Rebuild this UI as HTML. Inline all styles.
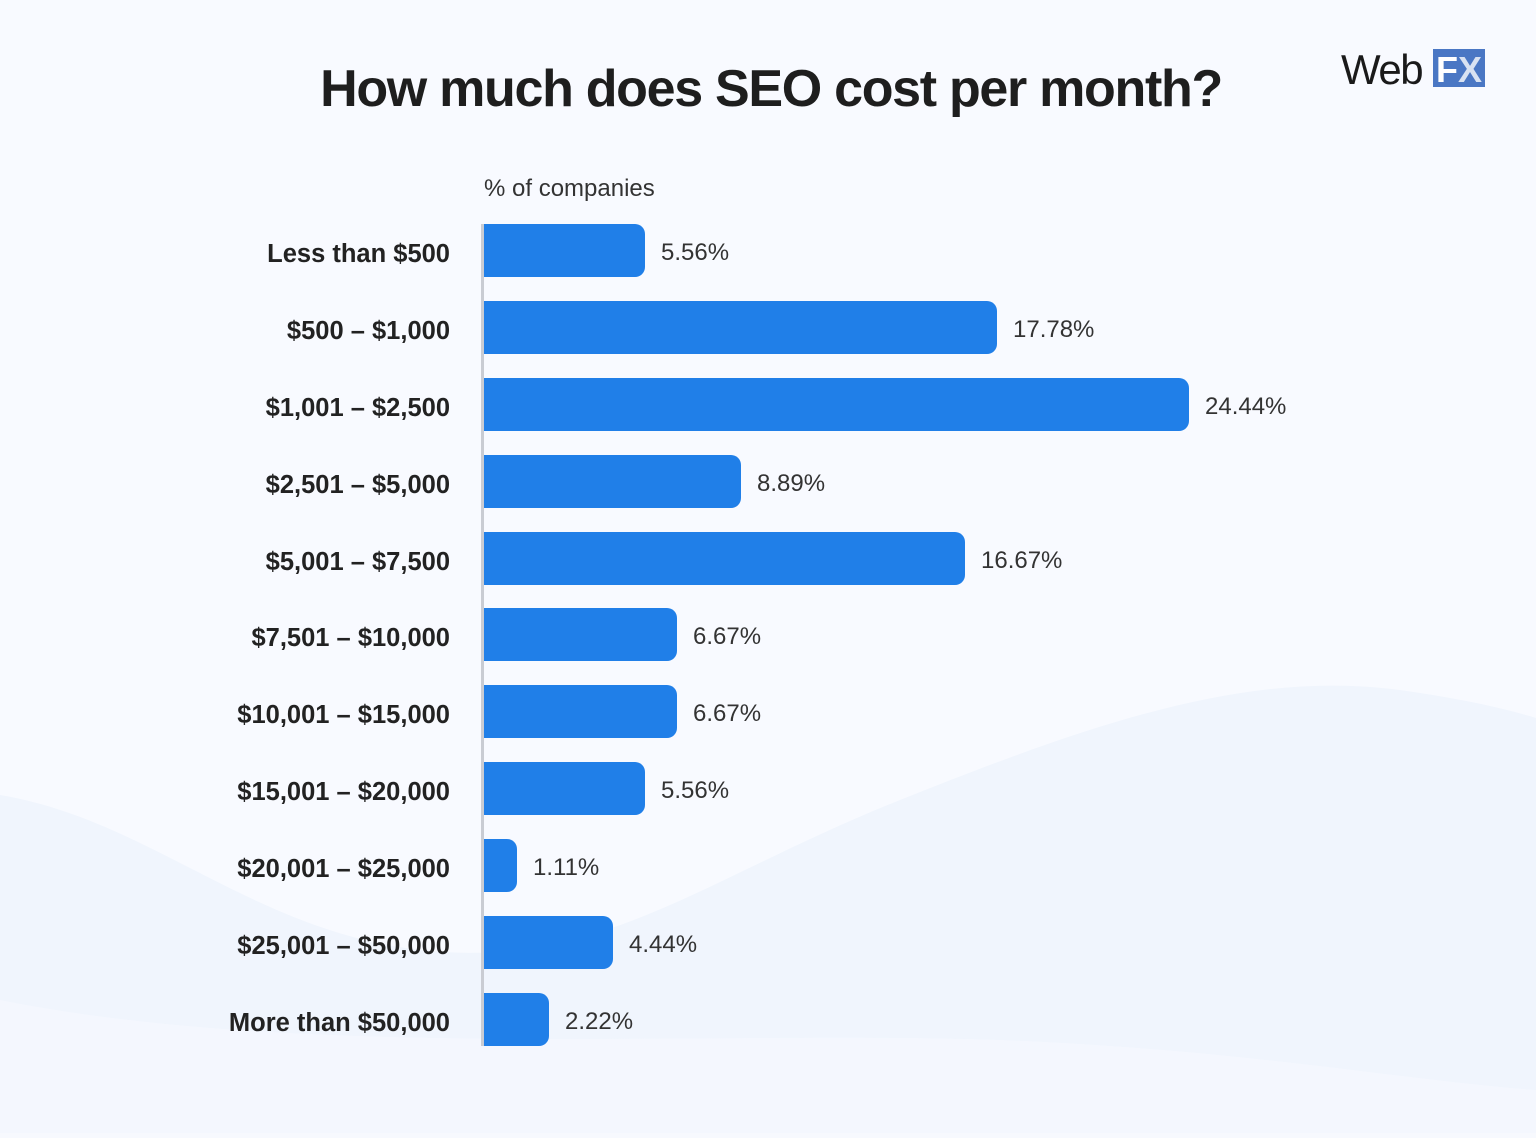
<!DOCTYPE html>
<html><head><style>
body{margin:0;width:1536px;height:1133px;overflow:hidden;background:#f7f9fe;font-family:"Liberation Sans",sans-serif}
</style></head><body>
<svg width="1536" height="1133" viewBox="0 0 1536 1133" xmlns="http://www.w3.org/2000/svg">
<rect width="1536" height="1133" fill="#f8faff"/>
<path d="M0 795 C150 820 250 930 420 950 C600 970 700 880 900 800 C1100 720 1250 670 1400 690 C1470 700 1510 710 1536 718 L1536 1133 L0 1133Z" fill="#f0f5fd"/>
<path d="M0 1000 C300 1060 700 1030 1000 1040 C1250 1050 1400 1080 1536 1090 L1536 1133 L0 1133Z" fill="#f5f8fe" opacity="0.8"/>
<text x="771" y="106" text-anchor="middle" font-size="52" font-weight="bold" fill="#1e1e1e" letter-spacing="-1.3">How much does SEO cost per month?</text>
<text x="1341" y="84" font-size="42" fill="#1a1a1a" letter-spacing="-1.5">Web</text>
<rect x="1433" y="49" width="52" height="38" fill="#4a77c4"/>
<text x="1459" y="82" text-anchor="middle" font-size="36" font-weight="bold" fill="#fff">F<tspan fill="#d8e2f2">X</tspan></text>
<text x="484" y="196" font-size="24" fill="#333">% of companies</text>
<rect x="481" y="224" width="3" height="822" fill="#c9ccd3"/>
<g fill="#207fe8">
<path d="M484 224 H635 a10 10 0 0 1 10 10 V267 a10 10 0 0 1 -10 10 H484Z"/>
<path d="M484 301 H987 a10 10 0 0 1 10 10 V344 a10 10 0 0 1 -10 10 H484Z"/>
<path d="M484 378 H1179 a10 10 0 0 1 10 10 V421 a10 10 0 0 1 -10 10 H484Z"/>
<path d="M484 455 H731 a10 10 0 0 1 10 10 V498 a10 10 0 0 1 -10 10 H484Z"/>
<path d="M484 532 H955 a10 10 0 0 1 10 10 V575 a10 10 0 0 1 -10 10 H484Z"/>
<path d="M484 608 H667 a10 10 0 0 1 10 10 V651 a10 10 0 0 1 -10 10 H484Z"/>
<path d="M484 685 H667 a10 10 0 0 1 10 10 V728 a10 10 0 0 1 -10 10 H484Z"/>
<path d="M484 762 H635 a10 10 0 0 1 10 10 V805 a10 10 0 0 1 -10 10 H484Z"/>
<path d="M484 839 H507 a10 10 0 0 1 10 10 V882 a10 10 0 0 1 -10 10 H484Z"/>
<path d="M484 916 H603 a10 10 0 0 1 10 10 V959 a10 10 0 0 1 -10 10 H484Z"/>
<path d="M484 993 H539 a10 10 0 0 1 10 10 V1036 a10 10 0 0 1 -10 10 H484Z"/>
</g>
<g font-size="25.5" font-weight="bold" fill="#222" text-anchor="end">
<text x="450" y="262">Less than $500</text>
<text x="450" y="339">$500 – $1,000</text>
<text x="450" y="416">$1,001 – $2,500</text>
<text x="450" y="493">$2,501 – $5,000</text>
<text x="450" y="570">$5,001 – $7,500</text>
<text x="450" y="646">$7,501 – $10,000</text>
<text x="450" y="723">$10,001 – $15,000</text>
<text x="450" y="800">$15,001 – $20,000</text>
<text x="450" y="877">$20,001 – $25,000</text>
<text x="450" y="954">$25,001 – $50,000</text>
<text x="450" y="1031">More than $50,000</text>
</g>
<g font-size="24" fill="#333">
<text x="661" y="260">5.56%</text>
<text x="1013" y="337">17.78%</text>
<text x="1205" y="414">24.44%</text>
<text x="757" y="491">8.89%</text>
<text x="981" y="568">16.67%</text>
<text x="693" y="644">6.67%</text>
<text x="693" y="721">6.67%</text>
<text x="661" y="798">5.56%</text>
<text x="533" y="875">1.11%</text>
<text x="629" y="952">4.44%</text>
<text x="565" y="1029">2.22%</text>
</g>
</svg>
</body></html>
